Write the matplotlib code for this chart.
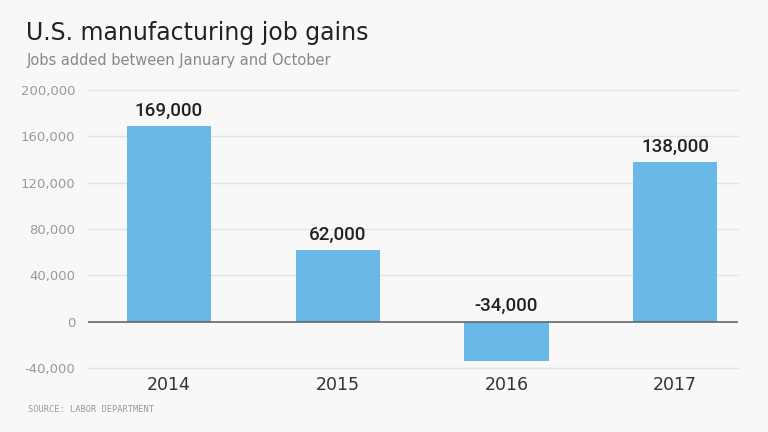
import matplotlib.pyplot as plt

years = ['2014', '2015', '2016', '2017']
jobs = [169000, 62000, -34000, 138000]
value_labels = ['169,000', '62,000', '-34,000', '138,000']
y_ticks = [-40000, 0, 40000, 80000, 120000, 160000, 200000]
y_tick_labels = ['-40,000', '0', '40,000', '80,000', '120,000', '160,000', '200,000']

bg = '#f8f8f8'
fig = plt.figure(figsize=(7.68, 4.32), dpi=100, facecolor=bg)
ax = fig.add_axes([88 / 768, 1 - 368 / 432, 650 / 768, 278 / 432], facecolor=bg)

x = range(len(years))
ax.bar(x, jobs, width=0.5, color='#69b8e8', zorder=2)

# gridlines and zero line
for t in y_ticks:
    if t == 0:
        ax.axhline(t, color='#666666', lw=1.2, zorder=3)
    else:
        ax.axhline(t, color='#e2e2e2', lw=1, zorder=1, clip_on=False)

# value labels
for i, v in enumerate(jobs):
    ax.text(i, max(v, 0) + 5500, value_labels[i], ha='center', va='bottom',
            fontsize=13.5, color='#222222', family='Roboto', fontweight='medium')

ax.set_xlim(-0.48, 3.373)
ax.set_ylim(-40000, 200000)
ax.set_yticks(y_ticks)
ax.set_yticklabels(y_tick_labels, fontsize=9.5, color='#999999')
ax.set_xticks(list(x))
ax.set_xticklabels(years, fontsize=12.5, color='#333333')
ax.tick_params(axis='both', length=0)
ax.tick_params(axis='y', pad=9)
ax.tick_params(axis='x', pad=6)
for s in ax.spines.values():
    s.set_visible(False)

fig.text(26 / 768, 1 - 33 / 432, 'U.S. manufacturing job gains', fontsize=17,
         color='#222222', va='center', ha='left')
fig.text(27 / 768, 1 - 60 / 432, 'Jobs added between January and October', fontsize=10.5,
         color='#888888', va='center', ha='left')
fig.text(28 / 768, 1 - 410 / 432, 'SOURCE: LABOR DEPARTMENT', fontsize=6.3,
         color='#999999', va='center', ha='left', family='DejaVu Sans Mono')

fig.savefig('out.png', dpi=100, facecolor=bg)
